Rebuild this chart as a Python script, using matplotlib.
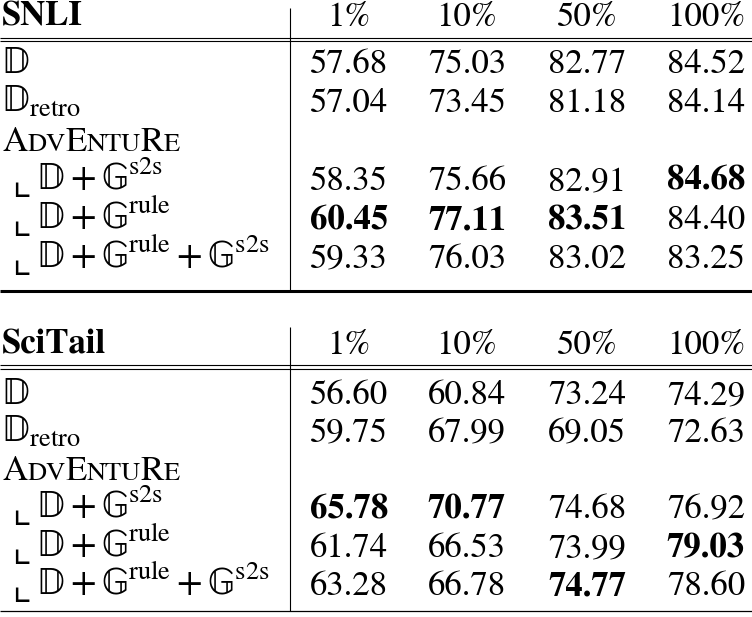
import numpy as np
import matplotlib
matplotlib.use('Agg')
import matplotlib.pyplot as plt

plt.rcParams['font.family'] = 'STIXGeneral'
plt.rcParams['mathtext.fontset'] = 'stix'
plt.rcParams['mathtext.default'] = 'rm'

splits = ['1%', '10%', '50%', '100%']
methods = ['D', 'D_retro', 'ADVENTURE', 'D+G_s2s', 'D+G_rule', 'D+G_rule+G_s2s']
snli = [[57.68, 75.03, 82.77, 84.52],
        [57.04, 73.45, 81.18, 84.14],
        None,
        [58.35, 75.66, 82.91, 84.68],
        [60.45, 77.11, 83.51, 84.40],
        [59.33, 76.03, 83.02, 83.25]]
scitail = [[56.60, 60.84, 73.24, 74.29],
           [59.75, 67.99, 69.05, 72.63],
           None,
           [65.78, 70.77, 74.68, 76.92],
           [61.74, 66.53, 73.99, 79.03],
           [63.28, 66.78, 74.77, 78.60]]

label_tex = {
    'D': r'$\mathbb{D}$',
    'D_retro': r'$\mathbb{D}_{\mathrm{retro}}$',
    'D+G_s2s': r'$\llcorner\;\mathbb{D}+\mathbb{G}^{\mathrm{s2s}}$',
    'D+G_rule': r'$\llcorner\;\mathbb{D}+\mathbb{G}^{\mathrm{rule}}$',
    'D+G_rule+G_s2s': r'$\llcorner\;\mathbb{D}+\mathbb{G}^{\mathrm{rule}}+\mathbb{G}^{\mathrm{s2s}}$',
}

FS = 25
LABEL_FS = 27
col_x = [349, 467, 587, 706]
vline_x = 289.5

fig = plt.figure(figsize=(7.52, 6.17), dpi=100)
ax = fig.add_axes([0, 0, 1, 1])
ax.set_xlim(0, 752)
ax.set_ylim(617, 0)
ax.axis('off')
renderer = fig.canvas.get_renderer()


def small_caps(x, y, word_parts):
    # parts: (text, is_big)
    for txt, big in word_parts:
        t = ax.text(x, y, txt, fontsize=FS if big else FS * 0.76,
                    ha='left', va='baseline')
        x += t.get_window_extent(renderer).width


def block(title, values, head_y, rows_y, top, rule1, bottom, bottom_lw):
    ax.text(2, head_y, title, fontsize=FS, fontweight='bold', ha='left', va='baseline')
    for x, s in zip(col_x, splits):
        ax.text(x, head_y, s, fontsize=FS, ha='center', va='baseline')
    ax.hlines([rule1, rule1 + 3.3], 0, 752, colors='black', lw=0.8)
    ax.hlines(bottom, 0, 752, colors='black', lw=bottom_lw)
    ax.vlines(vline_x, top, bottom, colors='black', lw=0.8)

    arr = np.array([v for v in values if v is not None])
    best = arr.max(axis=0)
    for m, vals, y in zip(methods, values, rows_y):
        if m == 'ADVENTURE':
            small_caps(2, y, [('A', True), ('DV', False), ('E', True),
                              ('NTU', False), ('R', True), ('E', False)])
        else:
            lx = 2 if m in ('D', 'D_retro') else 13
            ax.text(lx, y, label_tex[m], fontsize=LABEL_FS, ha='left', va='baseline')
        if vals is None:
            continue
        for j, v in enumerate(vals):
            ax.text(col_x[j], y, f'{v:.2f}', fontsize=FS, ha='center', va='baseline',
                    fontweight='bold' if v == best[j] else 'normal')


block('SNLI', snli, 26, [73, 112, 151, 190, 229, 268], 8, 37.5, 291, 2.2)
block('SciTail', scitail, 353.5, [404, 442, 480, 518.5, 557, 595], 327, 365.3, 611, 0.9)

fig.savefig('out.png', dpi=100)
